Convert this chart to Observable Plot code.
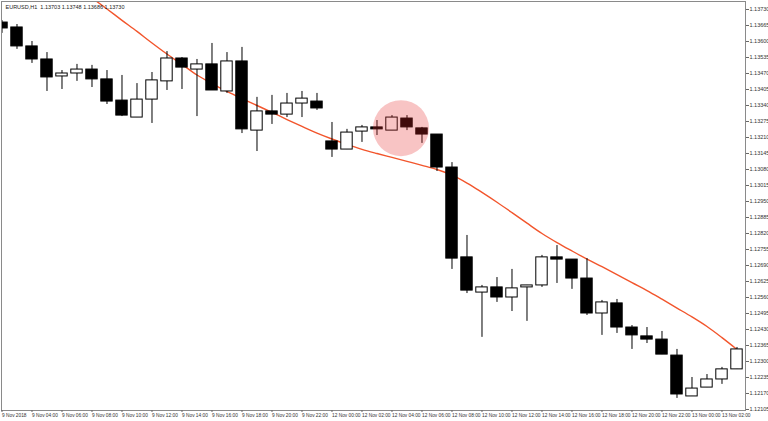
<!DOCTYPE html>
<html><head><meta charset="utf-8">
<script src="https://cdn.jsdelivr.net/npm/d3@7"></script>
<script src="https://cdn.jsdelivr.net/npm/@observablehq/plot@0.6"></script>
<style>html,body{margin:0;padding:0;background:#fff;} #chart svg{display:block;}</style>
</head><body><div id="chart"></div>
<script>
const symbolTitle = "EURUSD,H1  1.13703 1.13748 1.13686 1.13730";

const opens = [1.13677,1.13657,1.13580,1.13527,1.13458,1.13470,1.13486,1.13446,1.13360,1.13291,
  1.13364,1.13438,1.13531,1.13486,1.13507,1.13397,1.13519,1.13238,1.13316,1.13303,
  1.13348,1.13356,1.13194,1.13161,1.13234,1.13251,1.13238,1.13287,1.13247,1.13222,
  1.13088,1.12723,1.12580,1.12601,1.12560,1.12601,1.12609,1.12723,1.12714,1.12637,
  1.12495,1.12536,1.12438,1.12402,1.12389,1.12324,1.12158,1.12194,1.12227,1.12268];
const highs = [1.13685,1.13669,1.13600,1.13555,1.13482,1.13507,1.13503,1.13482,1.13462,1.13429,
  1.13474,1.13559,1.13535,1.13527,1.13592,1.13555,1.13576,1.13373,1.13381,1.13389,
  1.13397,1.13389,1.13271,1.13243,1.13259,1.13279,1.13299,1.13299,1.13251,1.13222,
  1.13108,1.12812,1.12609,1.12641,1.12674,1.12609,1.12731,1.12771,1.12714,1.12718,
  1.12548,1.12552,1.12446,1.12438,1.12422,1.12349,1.12235,1.12247,1.12276,1.12357];
const lows = [1.13633,1.13568,1.13511,1.13397,1.13405,1.13438,1.13413,1.13344,1.13295,1.13291,
  1.13267,1.13401,1.13405,1.13295,1.13401,1.13389,1.13226,1.13153,1.13263,1.13291,
  1.13291,1.13320,1.13129,1.13161,1.13190,1.13218,1.13238,1.13238,1.13186,1.13072,
  1.12674,1.12576,1.12398,1.12540,1.12503,1.12463,1.12601,1.12617,1.12593,1.12487,
  1.12406,1.12414,1.12349,1.12373,1.12328,1.12150,1.12158,1.12194,1.12207,1.12268];
const closes = [1.13653,1.13580,1.13527,1.13454,1.13470,1.13486,1.13446,1.13356,1.13299,1.13364,
  1.13442,1.13531,1.13494,1.13507,1.13401,1.13519,1.13243,1.13316,1.13303,1.13348,
  1.13368,1.13328,1.13161,1.13230,1.13251,1.13243,1.13291,1.13251,1.13222,1.13088,
  1.12718,1.12588,1.12601,1.12560,1.12597,1.12609,1.12723,1.12714,1.12637,1.12495,
  1.12540,1.12438,1.12406,1.12389,1.12328,1.12166,1.12190,1.12227,1.12268,1.12349];
const maValues = [null,null,null,null,null,1.13821,1.13777,1.13732,1.13686,1.13641,
  1.13594,1.13549,1.13507,1.13464,1.13429,1.13397,1.13368,1.13340,1.13312,1.13283,
  1.13255,1.13228,1.13204,1.13182,1.13162,1.13145,1.13129,1.13113,1.13097,1.13080,
  1.13057,1.13025,1.12987,1.12947,1.12905,1.12862,1.12820,1.12783,1.12749,1.12716,
  1.12685,1.12653,1.12620,1.12588,1.12553,1.12517,1.12481,1.12442,1.12397,1.12349];

const xTickLabels = ["9 Nov 2018","9 Nov 04:00","9 Nov 06:00","9 Nov 08:00","9 Nov 10:00","9 Nov 12:00",
  "9 Nov 14:00","9 Nov 16:00","9 Nov 18:00","9 Nov 20:00","9 Nov 22:00","12 Nov 00:00","12 Nov 02:00",
  "12 Nov 04:00","12 Nov 06:00","12 Nov 08:00","12 Nov 10:00","12 Nov 12:00","12 Nov 14:00","12 Nov 16:00",
  "12 Nov 18:00","12 Nov 20:00","12 Nov 22:00","13 Nov 00:00","13 Nov 02:00"];
const yTicks = [1.13730,1.13665,1.13600,1.13535,1.13470,1.13405,1.13340,1.13275,1.13210,1.13145,
  1.13080,1.13015,1.12950,1.12885,1.12820,1.12755,1.12690,1.12625,1.12560,1.12495,
  1.12430,1.12365,1.12300,1.12235,1.12170,1.12105];

const highlightIndex = 26.6;
const highlightPrice = 1.13248;

const candles = opens.map((o, i) => ({i, open: o, high: highs[i], low: lows[i], close: closes[i]}));
const bearish = candles.filter(d => d.close < d.open);
const bullish = candles.filter(d => d.close >= d.open);
const maData = maValues.map((v, i) => ({i, v})).filter(d => d.v != null);
const xTickIdx = xTickLabels.map((_, k) => 2 * k);
const hw = 0.38;

const chart = Plot.plot({
  width: 768, height: 421,
  marginLeft: 1, marginRight: 23, marginTop: 1, marginBottom: 11,
  x: {type: "linear", domain: [-0.033, 49.567]},
  y: {type: "linear", domain: [1.121009, 1.137625]},
  style: {fontFamily: "'Liberation Sans', Arial, sans-serif", fontSize: "5.5px", color: "#222", background: "#fff"},
  marks: [
    Plot.line(maData, {x: "i", y: "v", stroke: "#f2552c", strokeWidth: 1.4, clip: true, curve: "catmull-rom"}),
    Plot.ruleX(candles, {x: "i", y1: "low", y2: "high", stroke: "#000", strokeWidth: 1, clip: true}),
    Plot.rect(bullish, {x1: d => d.i - hw, x2: d => d.i + hw, y1: "open", y2: "close", fill: "#fff", stroke: "#000", strokeWidth: 1, clip: true}),
    Plot.rect(bearish, {x1: d => d.i - hw, x2: d => d.i + hw, y1: "open", y2: "close", fill: "#000", stroke: "#000", strokeWidth: 1, clip: true}),
    Plot.dot([{index: highlightIndex, price: highlightPrice}], {x: "index", y: "price", r: 28, fill: "#e52b2b", fillOpacity: 0.28, stroke: "none"}),
    Plot.frame({stroke: "#8a8a8a"}),
    Plot.axisY({anchor: "right", ticks: yTicks, tickFormat: d3.format(".5f"), tickSize: 3, tickPadding: 1, stroke: "#666", fill: "#333", fontSize: 5.5}),
    Plot.axisX({anchor: "bottom", ticks: xTickIdx, tickFormat: d => xTickLabels[d / 2], tickSize: 2, tickPadding: 1, textAnchor: "start", stroke: "#666", fill: "#333", fontSize: 4.8}),
    Plot.text([symbolTitle], {text: d => d, frameAnchor: "top-left", dx: 4, dy: 3.5, fontSize: 5.5, fill: "#222"})
  ]
});
document.getElementById("chart").append(chart);
</script>
</body></html>
